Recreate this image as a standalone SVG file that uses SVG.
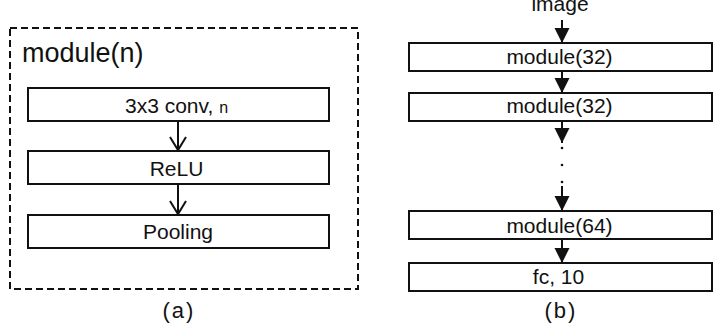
<svg xmlns="http://www.w3.org/2000/svg" width="714" height="324" viewBox="0 0 714 324">
<defs>
<style>
.box{fill:#fff;stroke:#111;stroke-width:2}
.dash{fill:none;stroke:#111;stroke-width:2;stroke-dasharray:7 4}
.t{font-family:"Liberation Sans",Arial,sans-serif;fill:#111;text-anchor:middle;font-size:21px}
.ln{stroke:#111;stroke-width:2;fill:none}
.open{stroke:#111;stroke-width:2;fill:none}
.fill{fill:#111;stroke:none}
</style>
<marker id="vh" markerWidth="16" markerHeight="18" refX="14" refY="9" orient="auto" markerUnits="userSpaceOnUse">
<path d="M1,1 L14,9 L1,17" class="open"/>
</marker>
<marker id="th" markerWidth="16" markerHeight="16" refX="15" refY="7.5" orient="auto" markerUnits="userSpaceOnUse">
<path d="M0,0 L15,7.5 L0,15 Z" class="fill"/>
</marker>
</defs>
<rect width="714" height="324" fill="#fff"/>

<g id="module-n">
<rect x="10" y="28" width="348" height="261" class="dash"/>
<text x="22" y="62" class="t" style="text-anchor:start;font-size:27px">module(n)</text>
</g>

<g id="conv">
<rect x="28" y="88" width="301" height="33" class="box"/>
<text x="176.5" y="112.5" class="t">3x3 conv, <tspan style="font-size:16px">n</tspan></text>
</g>
<g id="relu">
<rect x="28" y="151" width="301" height="33" class="box"/>
<text x="176.5" y="176" class="t">ReLU</text>
</g>
<g id="pooling">
<rect x="28" y="215" width="301" height="33" class="box"/>
<text x="178" y="238.5" class="t">Pooling</text>
</g>

<g id="b-m32a">
<rect x="409" y="43" width="303" height="28" class="box"/>
<text x="559.5" y="63.5" class="t">module(32)</text>
</g>
<g id="b-m32b">
<rect x="409" y="93" width="303" height="28" class="box"/>
<text x="559.5" y="112.5" class="t">module(32)</text>
</g>
<g id="b-m64">
<rect x="409" y="211" width="303" height="28" class="box"/>
<text x="559.5" y="233" class="t">module(64)</text>
</g>
<g id="b-fc">
<rect x="409" y="263" width="303" height="28" class="box"/>
<text x="558.5" y="284" class="t">fc, 10</text>
</g>

<g id="labels">
<text x="560" y="11" class="t">image</text>
<text x="179" y="318" class="t" style="font-size:22px;letter-spacing:2px">(a)</text>
<text x="561" y="318" class="t" style="font-size:22px;letter-spacing:2px">(b)</text>
</g>

<g id="connectors">
<line x1="178" y1="122" x2="178" y2="150" class="ln" marker-end="url(#vh)"/>
<line x1="178" y1="185" x2="178" y2="214" class="ln" marker-end="url(#vh)"/>
<line x1="562" y1="20" x2="562" y2="43" class="ln" marker-end="url(#th)"/>
<line x1="562" y1="71" x2="562" y2="93" class="ln" marker-end="url(#th)"/>
<line x1="562" y1="121" x2="562" y2="143" class="ln" marker-end="url(#th)"/>
<circle cx="562" cy="148" r="1.3" class="fill"/>
<circle cx="562" cy="165" r="1.3" class="fill"/>
<circle cx="562" cy="182" r="1.3" class="fill"/>
<line x1="562" y1="186" x2="562" y2="211" class="ln" marker-end="url(#th)"/>
<line x1="562" y1="239" x2="562" y2="263" class="ln" marker-end="url(#th)"/>
</g>
</svg>
